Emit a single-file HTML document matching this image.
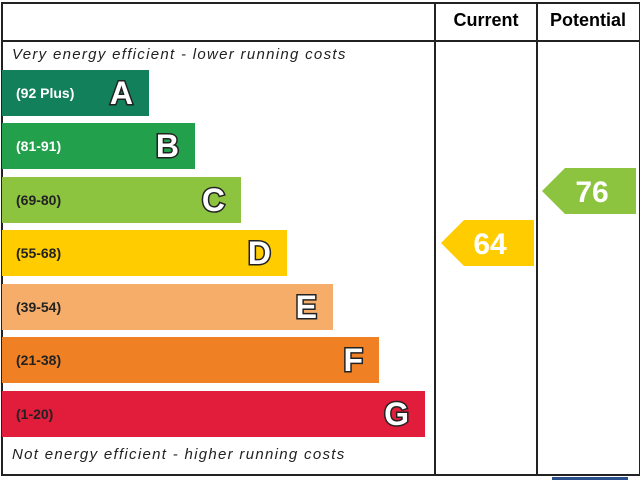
<!DOCTYPE html><html><head><style>
body{margin:0;width:640px;height:480px;background:#fff;position:relative;overflow:hidden;font-family:"Liberation Sans",Arial,sans-serif}
.a{position:absolute}
.bar{position:absolute;left:2px;height:46px;color:#fff;font-weight:bold;font-size:14px}
.bar span{position:absolute;left:14px;top:15px}
.bar b{position:absolute;right:16px;top:5px;font-size:32px;font-weight:900;color:#fff;-webkit-text-stroke:3px #222;paint-order:stroke fill;font-family:"Liberation Sans",sans-serif}
.it{font-style:italic;font-size:15px;letter-spacing:1.3px;color:#222}
</style></head><body>
<div class="a" style="left:1px;top:2px;width:636px;height:470px;border:2px solid #222"></div>
<div class="a" style="left:1px;top:40px;width:638px;height:2px;background:#222"></div>
<div class="a" style="left:434px;top:2px;width:2px;height:472px;background:#222"></div>
<div class="a" style="left:536px;top:2px;width:2px;height:472px;background:#222"></div>
<div class="a" style="left:436px;top:10px;width:100px;text-align:center;font-weight:bold;font-size:18px">Current</div>
<div class="a" style="left:538px;top:10px;width:100px;text-align:center;font-weight:bold;font-size:18px">Potential</div>
<div class="a it" style="left:12px;top:46px">Very energy efficient - lower running costs</div>
<div class="a it" style="left:12px;top:446px">Not energy efficient - higher running costs</div>
<div class="bar" style="top:70px;width:147px;background:#12805a"><span>(92 Plus)</span><b>A</b></div>
<div class="bar" style="top:123px;width:193px;background:#22a04b"><span>(81-91)</span><b>B</b></div>
<div class="bar" style="top:177px;width:239px;background:#8cc43f;color:#222"><span style="color:#222">(69-80)</span><b>C</b></div>
<div class="bar" style="top:230px;width:285px;background:#ffcc00"><span style="color:#222">(55-68)</span><b>D</b></div>
<div class="bar" style="top:284px;width:331px;background:#f7ad6a"><span style="color:#222">(39-54)</span><b>E</b></div>
<div class="bar" style="top:337px;width:377px;background:#ef8023"><span style="color:#222">(21-38)</span><b>F</b></div>
<div class="bar" style="top:391px;width:423px;background:#e21c3b"><span style="color:#222">(1-20)</span><b>G</b></div>
<svg class="a" style="left:0;top:0" width="640" height="480">
<polygon points="441,243 464,220 534,220 534,266 464,266" fill="#ffcc00"/>
<text x="490" y="254" font-family="Liberation Sans" font-weight="bold" font-size="30" fill="#fff" text-anchor="middle">64</text>
<polygon points="542,191 565,168 636,168 636,214 565,214" fill="#8cc43f"/>
<text x="592" y="202" font-family="Liberation Sans" font-weight="bold" font-size="30" fill="#fff" text-anchor="middle">76</text>
<rect x="552" y="477" width="76" height="3" fill="#2b4f8a"/>
</svg>
</body></html>
